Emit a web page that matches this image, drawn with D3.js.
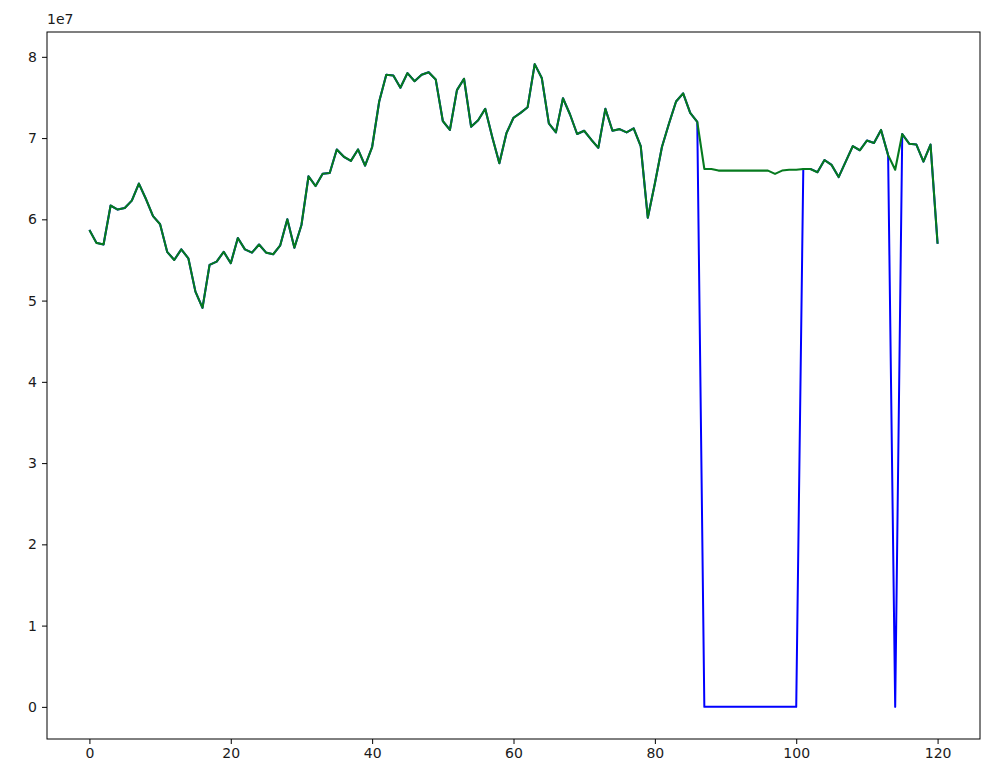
<!DOCTYPE html>
<html>
<head>
<meta charset="utf-8">
<script src="https://cdn.jsdelivr.net/npm/d3@7"></script>
<style>
  html, body { margin: 0; padding: 0; background: #fff; }
  svg { display: block; }
  text { font-family: "DejaVu Sans", sans-serif; fill: #1a1a1a; }
</style>
</head>
<body>
<svg id="chart" width="999" height="783"></svg>
<script>
// Values in units of 1e7
const filledValues = [
  5.87, 5.71, 5.69, 6.17, 6.12, 6.14, 6.23, 6.44, 6.25, 6.04,
  5.94, 5.60, 5.50, 5.63, 5.52, 5.11, 4.91, 5.44, 5.48, 5.60,
  5.46, 5.77, 5.63, 5.59, 5.69, 5.59, 5.57, 5.68, 6.00, 5.65,
  5.93, 6.53, 6.41, 6.56, 6.57, 6.86, 6.77, 6.72, 6.86, 6.66,
  6.89, 7.45, 7.78, 7.77, 7.62, 7.80, 7.70, 7.78, 7.81, 7.72,
  7.21, 7.10, 7.59, 7.73, 7.14, 7.22, 7.36, 7.01, 6.69, 7.06,
  7.25, 7.31, 7.38, 7.91, 7.74, 7.18, 7.07, 7.49, 7.29, 7.05,
  7.09, 6.98, 6.88, 7.36, 7.09, 7.11, 7.07, 7.12, 6.90, 6.02,
  6.44, 6.89, 7.18, 7.45, 7.55, 7.31, 7.20, 6.62, 6.62, 6.60,
  6.60, 6.60, 6.60, 6.60, 6.60, 6.60, 6.60, 6.56, 6.60, 6.61,
  6.61, 6.62, 6.62, 6.58, 6.73, 6.67, 6.52, 6.71, 6.90, 6.85,
  6.97, 6.94, 7.10, 6.79, 6.61, 7.05, 6.93, 6.92, 6.71, 6.92,
  5.70
];
// Original series: zeros where data was missing
const zeroIndices = [87, 88, 89, 90, 91, 92, 93, 94, 95, 96, 97, 98, 99, 100, 114];
const originalValues = filledValues.map((v, i) => zeroIndices.includes(i) ? 0 : v);
const xTicks = [0, 20, 40, 60, 80, 100, 120];
const yTicks = [0, 1, 2, 3, 4, 5, 6, 7, 8];
const exponentLabel = "1e7";

(function () {
  const svg = d3.select("#chart");
  const mL = 47, mR = 980, mT = 32, mB = 739;

  const n = filledValues.length - 1;
  const xPad = n * 0.05;
  const yMax = d3.max(originalValues), yMin = d3.min(originalValues);
  const yPad = (yMax - yMin) * 0.05;

  const x = d3.scaleLinear().domain([-xPad, n + xPad]).range([mL, mR]);
  const y = d3.scaleLinear().domain([yMin - yPad, yMax + yPad]).range([mB, mT]);

  const line = d3.line().x((d, i) => x(i)).y(d => y(d));

  const g = svg.append("g");
  g.append("path").datum(originalValues)
    .attr("d", line).attr("fill", "none")
    .attr("stroke", "#0000ff").attr("stroke-width", 2).attr("stroke-linejoin", "round");
  g.append("path").datum(filledValues)
    .attr("d", line).attr("fill", "none")
    .attr("stroke", "#067a1e").attr("stroke-width", 2.1).attr("stroke-linejoin", "round");

  svg.append("rect").attr("x", mL).attr("y", mT)
    .attr("width", mR - mL).attr("height", mB - mT)
    .attr("fill", "none").attr("stroke", "#000").attr("stroke-width", 1);

  const xAxis = svg.append("g").attr("transform", `translate(0,${mB})`)
    .call(d3.axisBottom(x).tickValues(xTicks).tickSize(5).tickPadding(4).tickFormat(d3.format("d")));
  const yAxis = svg.append("g").attr("transform", `translate(${mL},0)`)
    .call(d3.axisLeft(y).tickValues(yTicks).tickSize(5).tickPadding(5).tickFormat(d3.format("d")));
  [xAxis, yAxis].forEach(a => {
    a.select(".domain").remove();
    a.selectAll(".tick line").attr("stroke", "#000").attr("stroke-width", 1);
    a.selectAll(".tick text").attr("font-size", 14).attr("fill", "#1a1a1a")
      .attr("font-family", "DejaVu Sans, sans-serif");
  });

  svg.append("text").attr("x", mL).attr("y", mT - 8)
    .attr("font-size", 14).text(exponentLabel);
})();
</script>
</body>
</html>
